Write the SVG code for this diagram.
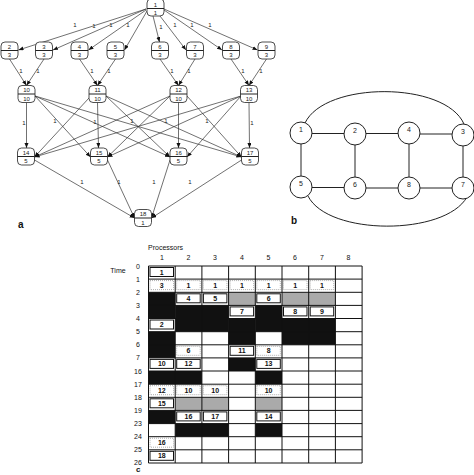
<svg xmlns="http://www.w3.org/2000/svg" width="474" height="475" viewBox="0 0 474 475">
<style>
.nd rect{fill:#fff;stroke:#222;stroke-width:0.8}
.nd line{stroke:#222;stroke-width:1}
.nd text,.lb{font-family:"Liberation Sans",Arial,sans-serif;font-size:6px;text-anchor:middle;fill:#222}
.e{stroke:#333;stroke-width:0.7;fill:none;marker-end:url(#ah)}
.c circle{fill:#fff;stroke:#222;stroke-width:1}
.c text{font-family:"Liberation Sans",Arial,sans-serif;font-size:7px;text-anchor:middle;fill:#222}
.be{stroke:#222;stroke-width:1;fill:none}
.t{font-family:"Liberation Sans",Arial,sans-serif;font-size:7px;text-anchor:middle;fill:#111}
.big{font-family:"Liberation Sans",Arial,sans-serif;font-size:10px;font-weight:bold;fill:#111}
.bk{fill:#111}
.gr{fill:#aaa}
.sb{fill:#fff;stroke:#111;stroke-width:1}
.lt{fill:#fff;stroke:#999;stroke-width:0.8;stroke-dasharray:1 1}
.cl{font-family:"Liberation Sans",Arial,sans-serif;font-size:7px;font-weight:bold;text-anchor:middle;fill:#111}
.grid line{stroke:#111;stroke-width:1}
</style>
<defs>
<marker id="ah" markerUnits="userSpaceOnUse" markerWidth="6" markerHeight="5" refX="5" refY="2" orient="auto"><path d="M0,0 L5,2 L0,4 z" fill="#111"/></marker>
</defs>

<!-- ===== a: connectors ===== -->
<g id="connectors-a">
<path class="e" d="M146,9 L18.5,50"/>
<path class="e" d="M146,9 L53,50"/>
<path class="e" d="M146,10 L88.5,50"/>
<path class="e" d="M147,11 L124.5,50"/>
<path class="e" d="M153,16 L159.5,42"/>
<path class="e" d="M160,16 L186,50"/>
<path class="e" d="M164,10 L222,50"/>
<path class="e" d="M164,9 L257.5,50"/>
<path class="e" d="M9.5,59 L26.5,85.5"/>
<path class="e" d="M44,59 L26.5,85.5"/>
<path class="e" d="M79.5,59 L97.5,85.5"/>
<path class="e" d="M115.5,59 L97.5,85.5"/>
<path class="e" d="M160,59 L178.5,85.5"/>
<path class="e" d="M195,59 L178.5,85.5"/>
<path class="e" d="M231,59 L249,85.5"/>
<path class="e" d="M266.5,59 L249,85.5"/>
<path class="e" d="M26.5,102.5 L26.5,148"/>
<path class="e" d="M35,96 L90.5,157"/>
<path class="e" d="M35,96 L170,157"/>
<path class="e" d="M35,96 L241.5,157"/>
<path class="e" d="M97.5,102.5 L98.5,148"/>
<path class="e" d="M89,98 L34.5,157"/>
<path class="e" d="M106,96 L170,157"/>
<path class="e" d="M106,96 L241.5,157"/>
<path class="e" d="M178.5,102.5 L178.5,148"/>
<path class="e" d="M170,96 L34.5,157"/>
<path class="e" d="M170,96 L107.5,157"/>
<path class="e" d="M187,96 L241.5,157"/>
<path class="e" d="M249,102.5 L249.5,148"/>
<path class="e" d="M241,96 L34.5,157"/>
<path class="e" d="M241,96 L107.5,157"/>
<path class="e" d="M241,96 L187,157"/>
<path class="e" d="M34.5,160 L134.5,218"/>
<path class="e" d="M107.5,160 L134.5,218"/>
<path class="e" d="M170,160 L151.5,218"/>
<path class="e" d="M241.5,160 L151.5,218"/>
</g>
<g id="edge-labels-a">
<text class="lb" x="75" y="27">1</text>
<text class="lb" x="94" y="28">1</text>
<text class="lb" x="111" y="27">1</text>
<text class="lb" x="128" y="27">1</text>
<text class="lb" x="161" y="29">1</text>
<text class="lb" x="175" y="27">1</text>
<text class="lb" x="192" y="27">1</text>
<text class="lb" x="210" y="27">1</text>
<text class="lb" x="21" y="73">1</text>
<text class="lb" x="38" y="73">1</text>
<text class="lb" x="92" y="73">1</text>
<text class="lb" x="109" y="73">1</text>
<text class="lb" x="172" y="73">1</text>
<text class="lb" x="189" y="73">1</text>
<text class="lb" x="243" y="73">1</text>
<text class="lb" x="261" y="73">1</text>
<text class="lb" x="24" y="125">1</text>
<text class="lb" x="55" y="123">1</text>
<text class="lb" x="95" y="124">1</text>
<text class="lb" x="132" y="123">1</text>
<text class="lb" x="166" y="123">1</text>
<text class="lb" x="207" y="123">1</text>
<text class="lb" x="252" y="125">1</text>
<text class="lb" x="82" y="184">1</text>
<text class="lb" x="119" y="184">1</text>
<text class="lb" x="154" y="184">1</text>
<text class="lb" x="190" y="184">1</text>
</g>

<!-- ===== a: nodes ===== -->
<g id="n1" class="nd"><rect x="147" y="-1" width="17" height="17" rx="4"/><line x1="147" y1="8.5" x2="164" y2="8.5"/><text x="155.5" y="6.5">1</text><text x="155.5" y="15">1</text></g>
<g id="n2" class="nd"><rect x="1" y="42" width="17" height="17" rx="4"/><line x1="1" y1="50.5" x2="18" y2="50.5"/><text x="9.5" y="48.5">2</text><text x="9.5" y="57">3</text></g>
<g id="n3" class="nd"><rect x="35.5" y="42" width="17" height="17" rx="4"/><line x1="35.5" y1="50.5" x2="52.5" y2="50.5"/><text x="44" y="48.5">3</text><text x="44" y="57">3</text></g>
<g id="n4" class="nd"><rect x="71" y="42" width="17" height="17" rx="4"/><line x1="71" y1="50.5" x2="88" y2="50.5"/><text x="79.5" y="48.5">4</text><text x="79.5" y="57">3</text></g>
<g id="n5" class="nd"><rect x="107" y="42" width="17" height="17" rx="4"/><line x1="107" y1="50.5" x2="124" y2="50.5"/><text x="115.5" y="48.5">5</text><text x="115.5" y="57">3</text></g>
<g id="n6" class="nd"><rect x="151.5" y="42" width="17" height="17" rx="4"/><line x1="151.5" y1="50.5" x2="168.5" y2="50.5"/><text x="160" y="48.5">6</text><text x="160" y="57">3</text></g>
<g id="n7" class="nd"><rect x="186.5" y="42" width="17" height="17" rx="4"/><line x1="186.5" y1="50.5" x2="203.5" y2="50.5"/><text x="195" y="48.5">7</text><text x="195" y="57">3</text></g>
<g id="n8" class="nd"><rect x="222.5" y="42" width="17" height="17" rx="4"/><line x1="222.5" y1="50.5" x2="239.5" y2="50.5"/><text x="231" y="48.5">8</text><text x="231" y="57">3</text></g>
<g id="n9" class="nd"><rect x="258" y="42" width="17" height="17" rx="4"/><line x1="258" y1="50.5" x2="275" y2="50.5"/><text x="266.5" y="48.5">9</text><text x="266.5" y="57">3</text></g>
<g id="n10" class="nd"><rect x="18" y="85.5" width="17" height="17" rx="4"/><line x1="18" y1="94" x2="35" y2="94"/><text x="26.5" y="92">10</text><text x="26.5" y="100.5">10</text></g>
<g id="n11" class="nd"><rect x="89" y="85.5" width="17" height="17" rx="4"/><line x1="89" y1="94" x2="106" y2="94"/><text x="97.5" y="92">11</text><text x="97.5" y="100.5">10</text></g>
<g id="n12" class="nd"><rect x="170" y="85.5" width="17" height="17" rx="4"/><line x1="170" y1="94" x2="187" y2="94"/><text x="178.5" y="92">12</text><text x="178.5" y="100.5">10</text></g>
<g id="n13" class="nd"><rect x="240.5" y="85.5" width="17" height="17" rx="4"/><line x1="240.5" y1="94" x2="257.5" y2="94"/><text x="249" y="92">13</text><text x="249" y="100.5">10</text></g>
<g id="n14" class="nd"><rect x="17.5" y="148" width="17" height="17" rx="4"/><line x1="17.5" y1="156.5" x2="34.5" y2="156.5"/><text x="26" y="154.5">14</text><text x="26" y="163">5</text></g>
<g id="n15" class="nd"><rect x="90.5" y="148" width="17" height="17" rx="4"/><line x1="90.5" y1="156.5" x2="107.5" y2="156.5"/><text x="99" y="154.5">15</text><text x="99" y="163">5</text></g>
<g id="n16" class="nd"><rect x="170" y="148" width="17" height="17" rx="4"/><line x1="170" y1="156.5" x2="187" y2="156.5"/><text x="178.5" y="154.5">16</text><text x="178.5" y="163">5</text></g>
<g id="n17" class="nd"><rect x="241.5" y="148" width="17" height="17" rx="4"/><line x1="241.5" y1="156.5" x2="258.5" y2="156.5"/><text x="250" y="154.5">17</text><text x="250" y="163">5</text></g>
<g id="n18" class="nd"><rect x="134.5" y="209.5" width="17" height="17" rx="4"/><line x1="134.5" y1="218" x2="151.5" y2="218"/><text x="143" y="216">18</text><text x="143" y="224.5">1</text></g>
<text class="big" x="18" y="228">a</text>

<!-- ===== b ===== -->
<g id="connectors-b">
<line class="be" x1="312" y1="133.5" x2="344" y2="133.5"/>
<line class="be" x1="366" y1="133.5" x2="398" y2="133.5"/>
<line class="be" x1="420" y1="134" x2="452" y2="134"/>
<line class="be" x1="312" y1="187.5" x2="344" y2="187.5"/>
<line class="be" x1="366" y1="188" x2="398" y2="188"/>
<line class="be" x1="420" y1="188" x2="452" y2="188"/>
<line class="be" x1="301" y1="144" x2="301" y2="176"/>
<line class="be" x1="355" y1="145" x2="355" y2="177"/>
<line class="be" x1="409" y1="144" x2="409" y2="177"/>
<line class="be" x1="463" y1="146" x2="463" y2="177"/>
<path class="be" d="M305,123 C325,81 445,81 464,124"/>
<path class="be" d="M308,196 C328,236 445,236 467,197"/>
</g>
<g id="b1" class="c"><circle cx="301" cy="133" r="11"/><text x="301" y="132">1</text></g>
<g id="b2" class="c"><circle cx="355" cy="134" r="11"/><text x="355" y="133">2</text></g>
<g id="b4" class="c"><circle cx="409" cy="133" r="11"/><text x="409" y="132">4</text></g>
<g id="b3" class="c"><circle cx="463" cy="135" r="11"/><text x="463" y="134">3</text></g>
<g id="b5" class="c"><circle cx="301" cy="187" r="11"/><text x="301" y="186">5</text></g>
<g id="b6" class="c"><circle cx="355" cy="188" r="11"/><text x="355" y="187">6</text></g>
<g id="b8" class="c"><circle cx="409" cy="188" r="11"/><text x="409" y="187">8</text></g>
<g id="b7" class="c"><circle cx="463" cy="188" r="11"/><text x="463" y="187">7</text></g>
<text class="big" x="291" y="224">b</text>

<!-- ===== c: schedule table ===== -->
<text class="t" x="148" y="250" style="text-anchor:start">Processors</text>
<text class="t" x="162" y="260">1</text>
<text class="t" x="188.5" y="260">2</text>
<text class="t" x="215" y="260">3</text>
<text class="t" x="242" y="260">4</text>
<text class="t" x="268.5" y="260">5</text>
<text class="t" x="295" y="260">6</text>
<text class="t" x="322" y="260">7</text>
<text class="t" x="348.5" y="260">8</text>
<text class="t" x="118" y="273">Time</text>
<g class="t">
<text x="138" y="268.5">0</text>
<text x="138" y="281.5">1</text>
<text x="138" y="294.5">2</text>
<text x="138" y="307.5">3</text>
<text x="138" y="321">4</text>
<text x="138" y="334">5</text>
<text x="138" y="347">6</text>
<text x="138" y="360">7</text>
<text x="138" y="373.5">16</text>
<text x="138" y="386.5">17</text>
<text x="138" y="399.5">18</text>
<text x="138" y="412.5">19</text>
<text x="138" y="426">23</text>
<text x="138" y="439">24</text>
<text x="138" y="452">25</text>
<text x="138" y="465">26</text>
</g>
<g id="fills">
<rect class="bk" x="148.5" y="292.3" width="26.7" height="26.2"/>
<rect class="bk" x="175.2" y="305.4" width="53.4" height="26.3"/>
<rect class="bk" x="255.3" y="305.4" width="26.7" height="26.3"/>
<rect class="bk" x="228.6" y="318.5" width="26.7" height="26.3"/>
<rect class="bk" x="282" y="318.5" width="53.4" height="26.3"/>
<rect class="bk" x="148.5" y="331.7" width="26.7" height="26.2"/>
<rect class="bk" x="228.6" y="357.9" width="26.7" height="13.1"/>
<rect class="bk" x="148.5" y="371" width="53.4" height="13.2"/>
<rect class="bk" x="255.3" y="371" width="26.7" height="13.2"/>
<rect class="bk" x="148.5" y="410.4" width="26.7" height="13.2"/>
<rect class="bk" x="175.2" y="423.6" width="53.4" height="13.1"/>
<rect class="bk" x="255.3" y="423.6" width="26.7" height="13.1"/>
<rect class="gr" x="228.6" y="292.3" width="26.7" height="13.1"/>
<rect class="gr" x="282" y="292.3" width="53.4" height="13.1"/>
<rect class="gr" x="175.2" y="397.3" width="53.4" height="13.1"/>
<rect class="gr" x="255.3" y="397.3" width="26.7" height="13.1"/>
</g>
<g class="grid">
<line x1="148.5" y1="266" x2="362.1" y2="266"/>
<line x1="148.5" y1="279.1" x2="362.1" y2="279.1"/>
<line x1="148.5" y1="292.3" x2="362.1" y2="292.3"/>
<line x1="148.5" y1="305.4" x2="362.1" y2="305.4"/>
<line x1="148.5" y1="318.5" x2="362.1" y2="318.5"/>
<line x1="148.5" y1="331.7" x2="362.1" y2="331.7"/>
<line x1="148.5" y1="344.8" x2="362.1" y2="344.8"/>
<line x1="148.5" y1="357.9" x2="362.1" y2="357.9"/>
<line x1="148.5" y1="371" x2="362.1" y2="371"/>
<line x1="148.5" y1="384.2" x2="362.1" y2="384.2"/>
<line x1="148.5" y1="397.3" x2="362.1" y2="397.3"/>
<line x1="148.5" y1="410.4" x2="362.1" y2="410.4"/>
<line x1="148.5" y1="423.6" x2="362.1" y2="423.6"/>
<line x1="148.5" y1="436.7" x2="362.1" y2="436.7"/>
<line x1="148.5" y1="449.8" x2="362.1" y2="449.8"/>
<line x1="148.5" y1="463" x2="362.1" y2="463"/>
<line x1="148.5" y1="266" x2="148.5" y2="463"/>
<line x1="175.2" y1="266" x2="175.2" y2="463"/>
<line x1="201.9" y1="266" x2="201.9" y2="463"/>
<line x1="228.6" y1="266" x2="228.6" y2="463"/>
<line x1="255.3" y1="266" x2="255.3" y2="463"/>
<line x1="282" y1="266" x2="282" y2="463"/>
<line x1="308.7" y1="266" x2="308.7" y2="463"/>
<line x1="335.4" y1="266" x2="335.4" y2="463"/>
<line x1="362.1" y1="266" x2="362.1" y2="463"/>
</g>
<g id="cell-labels">
<rect class="sb" x="150" y="267.5" width="23.5" height="9"/><text class="cl" x="161.8" y="274.5">1</text>
<rect class="sb" x="176.7" y="293.8" width="23.5" height="9"/><text class="cl" x="188.5" y="300.8">4</text>
<rect class="sb" x="203.4" y="293.8" width="23.5" height="9"/><text class="cl" x="215.2" y="300.8">5</text>
<rect class="sb" x="256.8" y="293.8" width="23.5" height="9"/><text class="cl" x="268.6" y="300.8">6</text>
<rect class="sb" x="230.1" y="306.9" width="23.5" height="9"/><text class="cl" x="241.9" y="313.9">7</text>
<rect class="sb" x="283.5" y="306.9" width="23.5" height="9"/><text class="cl" x="295.3" y="313.9">8</text>
<rect class="sb" x="310.2" y="306.9" width="23.5" height="9"/><text class="cl" x="322" y="313.9">9</text>
<rect class="sb" x="150" y="320" width="23.5" height="9"/><text class="cl" x="161.8" y="327">2</text>
<rect class="sb" x="230.1" y="346.3" width="23.5" height="9"/><text class="cl" x="241.9" y="353.3">11</text>
<rect class="sb" x="150" y="359.4" width="23.5" height="9"/><text class="cl" x="161.8" y="366.4">10</text>
<rect class="sb" x="176.7" y="359.4" width="23.5" height="9"/><text class="cl" x="188.5" y="366.4">12</text>
<rect class="sb" x="256.8" y="359.4" width="23.5" height="9"/><text class="cl" x="268.6" y="366.4">13</text>
<rect class="sb" x="150" y="398.8" width="23.5" height="9"/><text class="cl" x="161.8" y="405.8">15</text>
<rect class="sb" x="176.7" y="411.9" width="23.5" height="9"/><text class="cl" x="188.5" y="418.9">16</text>
<rect class="sb" x="203.4" y="411.9" width="23.5" height="9"/><text class="cl" x="215.2" y="418.9">17</text>
<rect class="sb" x="256.8" y="411.9" width="23.5" height="9"/><text class="cl" x="268.6" y="418.9">14</text>
<rect class="sb" x="150" y="451.3" width="23.5" height="9"/><text class="cl" x="161.8" y="458.3">18</text>
<rect class="lt" x="150" y="280.6" width="23.5" height="9"/><text class="cl" x="161.8" y="287.6">3</text>
<rect class="lt" x="176.7" y="280.6" width="23.5" height="9"/><text class="cl" x="188.5" y="287.6">1</text>
<rect class="lt" x="203.4" y="280.6" width="23.5" height="9"/><text class="cl" x="215.2" y="287.6">1</text>
<rect class="lt" x="230.1" y="280.6" width="23.5" height="9"/><text class="cl" x="241.9" y="287.6">1</text>
<rect class="lt" x="256.8" y="280.6" width="23.5" height="9"/><text class="cl" x="268.6" y="287.6">1</text>
<rect class="lt" x="283.5" y="280.6" width="23.5" height="9"/><text class="cl" x="295.3" y="287.6">1</text>
<rect class="lt" x="310.2" y="280.6" width="23.5" height="9"/><text class="cl" x="322" y="287.6">1</text>
<rect class="lt" x="176.7" y="346.3" width="23.5" height="9"/><text class="cl" x="188.5" y="353.3">6</text>
<rect class="lt" x="256.8" y="346.3" width="23.5" height="9"/><text class="cl" x="268.6" y="353.3">8</text>
<rect class="lt" x="150" y="385.7" width="23.5" height="9"/><text class="cl" x="161.8" y="392.7">12</text>
<rect class="lt" x="176.7" y="385.7" width="23.5" height="9"/><text class="cl" x="188.5" y="392.7">10</text>
<rect class="lt" x="203.4" y="385.7" width="23.5" height="9"/><text class="cl" x="215.2" y="392.7">10</text>
<rect class="lt" x="256.8" y="385.7" width="23.5" height="9"/><text class="cl" x="268.6" y="392.7">10</text>
<rect class="lt" x="150" y="438.2" width="23.5" height="9"/><text class="cl" x="161.8" y="445.2">16</text>
</g>
<text class="big" x="136" y="472" style="font-size:8px">c</text>
</svg>
